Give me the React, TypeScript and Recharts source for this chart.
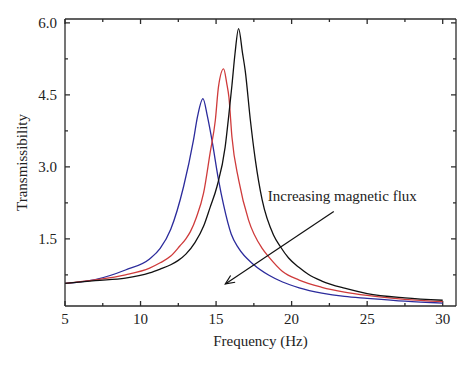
import { LineChart, Line, XAxis, YAxis, ReferenceLine, ReferenceDot } from 'recharts'

const blueFreq = [5, 7, 9, 10.6, 11.3, 12, 12.85, 13.5, 13.78, 14.13, 14.42, 14.73, 15.15, 15.5, 16, 16.5, 17.5, 18.5, 19.4, 20.5, 22, 23.5, 25, 27.5, 30]
const blueT = [0.57, 0.65, 0.85, 1.08, 1.3, 1.7, 2.59, 3.55, 4.06, 4.42, 4.06, 3.55, 2.75, 2.2, 1.6, 1.3, 0.96, 0.74, 0.6, 0.48, 0.37, 0.3, 0.26, 0.2, 0.16]

const redFreq = [5, 7, 9, 10.6, 11.3, 12, 12.6, 13, 13.3, 13.7, 14.17, 14.6, 14.95, 15.16, 15.5, 15.7, 15.85, 16.05, 16.5, 17.15, 18.05, 18.5, 19.4, 20.5, 22, 23.5, 25, 27.5, 30]
const redT = [0.57, 0.645, 0.75, 0.89, 1.0, 1.14, 1.35, 1.5, 1.65, 1.95, 2.45, 3.28, 3.97, 4.67, 5.04, 4.75, 4.45, 3.62, 2.72, 1.89, 1.3, 1.12, 0.82, 0.64, 0.49, 0.39, 0.32, 0.24, 0.19]

const blackFreq = [5, 7, 9, 10.6, 11.3, 12, 12.5, 13, 13.6, 14.17, 14.6, 15.06, 15.6, 15.85, 16.05, 16.25, 16.49, 16.75, 16.93, 17.27, 17.6, 18.05, 18.8, 19.25, 19.8, 20.5, 21.1, 22, 23.5, 25, 27.5, 30]
const blackT = [0.57, 0.63, 0.68, 0.79, 0.87, 0.96, 1.05, 1.18, 1.42, 1.76, 2.15, 2.59, 3.41, 4.1, 4.7, 5.35, 5.88, 5.37, 5.0, 3.97, 3.14, 2.31, 1.58, 1.34, 1.1, 0.9, 0.76, 0.62, 0.47, 0.36, 0.27, 0.22]

const xTicks = [5, 7.5, 10, 12.5, 15, 17.5, 20, 22.5, 25, 27.5, 30]
const yTicks = [0.75, 1.5, 2.25, 3.0, 3.75, 4.5, 5.25, 6.0]

const arrowFrom = { x: 22.79, y: 2.07 }
const arrowTo = { x: 15.61, y: 0.56 }
const noteText = 'Increasing magnetic flux'

const toRows = (fs: number[], ts: number[]) => fs.map((f, i) => ({ f, t: ts[i] }))
const blueData = toRows(blueFreq, blueT)
const redData = toRows(redFreq, redT)
const blackData = toRows(blackFreq, blackT)

const X_DOMAIN = [5, 30.88]
const Y_DOMAIN = [0.1, 6.08]
const AXIS = '#2b2b2b'
const FONT = "'Liberation Serif', 'Times New Roman', serif"

const isMajorX = (v: number) => v % 5 === 0
const isMajorY = (v: number) => Math.abs(v / 1.5 - Math.round(v / 1.5)) < 1e-6

const bottomLabel = (props: any) => {
  const { x, y, payload } = props
  const v = payload.value
  if (!isMajorX(v)) return <g />
  return (
    <text x={x} y={y + 18} textAnchor="middle" fontSize={15} fontFamily={FONT} fill="#222">
      {v}
    </text>
  )
}

const leftLabel = (props: any) => {
  const { x, y, payload } = props
  const v = payload.value
  if (!isMajorY(v)) return <g />
  return (
    <text x={x - 8} y={y + 5} textAnchor="end" fontSize={15} fontFamily={FONT} fill="#222">
      {v.toFixed(1)}
    </text>
  )
}

// inward tick marks at both ends of a reference line spanning the plot
function Stubs(props: any) {
  const { x1, y1, x2, y2, len } = props
  let d: string
  if (Math.abs(x1 - x2) < 0.5) {
    const top = Math.min(y1, y2)
    const bot = Math.max(y1, y2)
    d = `M${x1},${bot}V${bot - len}M${x1},${top}V${top + len}`
  } else {
    const left = Math.min(x1, x2)
    const right = Math.max(x1, x2)
    d = `M${left},${y1}H${left + len}M${right},${y1}H${right - len}`
  }
  return <path d={d} stroke={AXIS} strokeWidth={1.3} fill="none" />
}

function Arrow(props: any) {
  const { x1, y1, x2, y2 } = props
  const a = Math.atan2(y2 - y1, x2 - x1)
  const len = 10
  const spread = 0.42
  const p1x = x2 - len * Math.cos(a - spread)
  const p1y = y2 - len * Math.sin(a - spread)
  const p2x = x2 - len * Math.cos(a + spread)
  const p2y = y2 - len * Math.sin(a + spread)
  return (
    <g>
      <line x1={x1} y1={y1} x2={x2} y2={y2} stroke="#111" strokeWidth={1.2} />
      <path d={`M${p1x},${p1y} L${x2},${y2} L${p2x},${p2y}`} fill="none" stroke="#111" strokeWidth={1.2} />
    </g>
  )
}

function Note(props: any) {
  const { cx, cy } = props
  return (
    <text x={cx} y={cy} fontSize={15} fontFamily={FONT} fill="#222">
      {noteText}
    </text>
  )
}

function XTitle(props: any) {
  const { viewBox } = props
  return (
    <text x={viewBox.x + viewBox.width / 2} y={346} textAnchor="middle" fontSize={15} fontFamily={FONT} fill="#222">
      Frequency (Hz)
    </text>
  )
}

function YTitle(props: any) {
  const { viewBox } = props
  const cx = 26.5
  const cy = viewBox.y + viewBox.height / 2
  return (
    <text x={cx} y={cy} transform={`rotate(-90 ${cx} ${cy})`} textAnchor="middle" fontSize={15} fontFamily={FONT} fill="#222">
      Transmissibility
    </text>
  )
}

export default function App() {
  return (
    <div style={{ position: 'absolute', left: 0, top: 0, background: '#fff' }}>
      <LineChart width={474} height={368} margin={{ top: 18, right: 17, bottom: 0, left: 0 }}>
        <XAxis
          dataKey="f"
          type="number"
          domain={X_DOMAIN}
          ticks={xTicks}
          interval={0}
          allowDataOverflow
          height={62}
          tickSize={0}
          tickMargin={0}
          tick={bottomLabel}
          axisLine={{ stroke: AXIS, strokeWidth: 1.3 }}
          tickLine={false}
          label={<XTitle />}
        />
        <XAxis
          xAxisId="top"
          orientation="top"
          dataKey="f"
          type="number"
          domain={X_DOMAIN}
          allowDataOverflow
          height={1}
          tick={false}
          axisLine={{ stroke: AXIS, strokeWidth: 1.3 }}
          tickLine={false}
        />
        <YAxis
          type="number"
          domain={Y_DOMAIN}
          ticks={yTicks}
          interval={0}
          allowDataOverflow
          width={65}
          tickSize={0}
          tickMargin={0}
          tick={leftLabel}
          axisLine={{ stroke: AXIS, strokeWidth: 1.3 }}
          tickLine={false}
          label={<YTitle />}
        />
        <YAxis
          yAxisId="right"
          orientation="right"
          type="number"
          domain={Y_DOMAIN}
          allowDataOverflow
          width={1}
          tick={false}
          axisLine={{ stroke: AXIS, strokeWidth: 1.3 }}
          tickLine={false}
        />
        {xTicks.map((v) => (
          <ReferenceLine
            key={'xt' + v}
            segment={[{ x: v, y: Y_DOMAIN[0] }, { x: v, y: Y_DOMAIN[1] }]}
            ifOverflow="visible"
            shape={<Stubs len={isMajorX(v) ? 5 : 3} />}
          />
        ))}
        {yTicks.map((v) => (
          <ReferenceLine
            key={'yt' + v}
            segment={[{ x: X_DOMAIN[0], y: v }, { x: X_DOMAIN[1], y: v }]}
            ifOverflow="visible"
            shape={<Stubs len={isMajorY(v) ? 5 : 3} />}
          />
        ))}
        <Line data={blueData} dataKey="t" type="monotone" stroke="#2b2b9c" strokeWidth={1.3} dot={false} isAnimationActive={false} />
        <Line data={redData} dataKey="t" type="monotone" stroke="#cf3b3b" strokeWidth={1.3} dot={false} isAnimationActive={false} />
        <Line data={blackData} dataKey="t" type="monotone" stroke="#111111" strokeWidth={1.3} dot={false} isAnimationActive={false} />
        <ReferenceLine segment={[arrowFrom, arrowTo]} shape={<Arrow />} />
        <ReferenceDot x={18.42} y={2.28} r={0} shape={<Note />} />
      </LineChart>
    </div>
  )
}
